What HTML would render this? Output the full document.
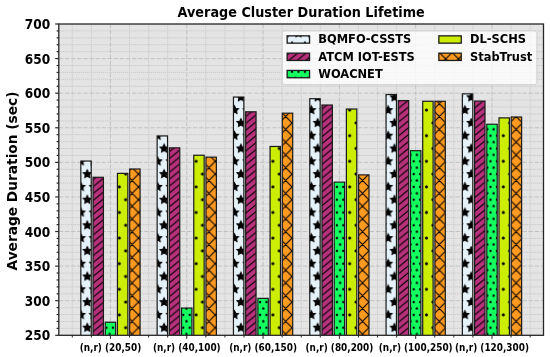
<!DOCTYPE html>
<html><head><meta charset="utf-8"><style>html,body{margin:0;padding:0;background:#fff;}svg{display:block;filter:blur(0.25px);}</style></head>
<body>
<svg width="550" height="357" viewBox="0 0 550 357" font-family="'DejaVu Sans', 'Liberation Sans', sans-serif" font-weight="bold">
<defs><pattern id="p_star" patternUnits="userSpaceOnUse" x="10.5" y="20.5" width="12.8" height="25.6"><rect width="12.8" height="25.6" fill="#e6f2f9"/><path d="M0.00,-4.27 L-1.25,-1.73 L-4.06,-1.32 L-2.03,0.66 L-2.51,3.45 L-0.00,2.13 L2.51,3.45 L2.03,0.66 L4.06,-1.32 L1.25,-1.73 Z M12.80,-4.27 L11.55,-1.73 L8.74,-1.32 L10.77,0.66 L10.29,3.45 L12.80,2.13 L15.31,3.45 L14.83,0.66 L16.86,-1.32 L14.05,-1.73 Z M0.00,21.33 L-1.25,23.87 L-4.06,24.28 L-2.03,26.26 L-2.51,29.05 L-0.00,27.73 L2.51,29.05 L2.03,26.26 L4.06,24.28 L1.25,23.87 Z M12.80,21.33 L11.55,23.87 L8.74,24.28 L10.77,26.26 L10.29,29.05 L12.80,27.73 L15.31,29.05 L14.83,26.26 L16.86,24.28 L14.05,23.87 Z M6.40,8.53 L5.15,11.07 L2.34,11.48 L4.37,13.46 L3.89,16.25 L6.40,14.93 L8.91,16.25 L8.43,13.46 L10.46,11.48 L7.65,11.07 Z " fill="#000" stroke="#000" stroke-width="1.0" stroke-linejoin="miter"/></pattern>
<pattern id="p_diag" patternUnits="userSpaceOnUse" x="0.0" y="1.0" width="8.4" height="6.9"><rect width="8.4" height="6.9" fill="#b8317c"/><path d="M-8.4,6.9 L8.4,-6.9 M0,6.9 L8.4,0 M0,13.8 L16.8,0" stroke="#000" stroke-width="1.1"/></pattern>
<pattern id="p_cross" patternUnits="userSpaceOnUse" x="10.5" y="20.5" width="12.8" height="12.8"><rect width="12.8" height="12.8" fill="#ff9a20"/><path d="M-12.8,12.8 L12.8,-12.8 M0,12.8 L12.8,0 M0,25.6 L25.6,0 M0,0 L12.8,12.8 M-12.8,0 L12.8,25.6 M0,-12.8 L25.6,12.8" stroke="#000" stroke-width="1.1"/></pattern>
<pattern id="p_dots1" patternUnits="userSpaceOnUse" x="10.5" y="20.5" width="12.8" height="25.6"><rect width="12.8" height="25.6" fill="#ccee04"/><g fill="#000" stroke="#000" stroke-width="0.55"><circle cx="0" cy="0" r="1.2800000000000002"/><circle cx="12.8" cy="0" r="1.2800000000000002"/><circle cx="0" cy="25.6" r="1.2800000000000002"/><circle cx="12.8" cy="25.6" r="1.2800000000000002"/><circle cx="6.4" cy="12.8" r="1.2800000000000002"/></g></pattern>
<pattern id="p_dots2" patternUnits="userSpaceOnUse" x="10.5" y="20.5" width="6.4" height="12.8"><rect width="6.4" height="12.8" fill="#14ff60"/><g fill="#000" stroke="#000" stroke-width="1.1"><circle cx="0" cy="0" r="0.6400000000000001"/><circle cx="6.4" cy="0" r="0.6400000000000001"/><circle cx="0" cy="12.8" r="0.6400000000000001"/><circle cx="6.4" cy="12.8" r="0.6400000000000001"/><circle cx="3.2" cy="6.4" r="0.6400000000000001"/></g></pattern><clipPath id="axclip"><rect x="58.8" y="24.0" width="484.7" height="311.3"/></clipPath></defs>
<rect width="550" height="357" fill="#fff"/>
<rect x="58.8" y="24.0" width="484.7" height="311.3" fill="#e4e4e4"/>
<g clip-path="url(#axclip)"><line x1="58.8" y1="328.38" x2="543.5" y2="328.38" stroke="#cdcdcd" stroke-width="1" stroke-dasharray="1.4,0.6"/><line x1="58.8" y1="321.46" x2="543.5" y2="321.46" stroke="#cdcdcd" stroke-width="1" stroke-dasharray="1.4,0.6"/><line x1="58.8" y1="314.55" x2="543.5" y2="314.55" stroke="#cdcdcd" stroke-width="1" stroke-dasharray="1.4,0.6"/><line x1="58.8" y1="307.63" x2="543.5" y2="307.63" stroke="#cdcdcd" stroke-width="1" stroke-dasharray="1.4,0.6"/><line x1="58.8" y1="293.79" x2="543.5" y2="293.79" stroke="#cdcdcd" stroke-width="1" stroke-dasharray="1.4,0.6"/><line x1="58.8" y1="286.88" x2="543.5" y2="286.88" stroke="#cdcdcd" stroke-width="1" stroke-dasharray="1.4,0.6"/><line x1="58.8" y1="279.96" x2="543.5" y2="279.96" stroke="#cdcdcd" stroke-width="1" stroke-dasharray="1.4,0.6"/><line x1="58.8" y1="273.04" x2="543.5" y2="273.04" stroke="#cdcdcd" stroke-width="1" stroke-dasharray="1.4,0.6"/><line x1="58.8" y1="259.20" x2="543.5" y2="259.20" stroke="#cdcdcd" stroke-width="1" stroke-dasharray="1.4,0.6"/><line x1="58.8" y1="252.29" x2="543.5" y2="252.29" stroke="#cdcdcd" stroke-width="1" stroke-dasharray="1.4,0.6"/><line x1="58.8" y1="245.37" x2="543.5" y2="245.37" stroke="#cdcdcd" stroke-width="1" stroke-dasharray="1.4,0.6"/><line x1="58.8" y1="238.45" x2="543.5" y2="238.45" stroke="#cdcdcd" stroke-width="1" stroke-dasharray="1.4,0.6"/><line x1="58.8" y1="224.62" x2="543.5" y2="224.62" stroke="#cdcdcd" stroke-width="1" stroke-dasharray="1.4,0.6"/><line x1="58.8" y1="217.70" x2="543.5" y2="217.70" stroke="#cdcdcd" stroke-width="1" stroke-dasharray="1.4,0.6"/><line x1="58.8" y1="210.78" x2="543.5" y2="210.78" stroke="#cdcdcd" stroke-width="1" stroke-dasharray="1.4,0.6"/><line x1="58.8" y1="203.86" x2="543.5" y2="203.86" stroke="#cdcdcd" stroke-width="1" stroke-dasharray="1.4,0.6"/><line x1="58.8" y1="190.03" x2="543.5" y2="190.03" stroke="#cdcdcd" stroke-width="1" stroke-dasharray="1.4,0.6"/><line x1="58.8" y1="183.11" x2="543.5" y2="183.11" stroke="#cdcdcd" stroke-width="1" stroke-dasharray="1.4,0.6"/><line x1="58.8" y1="176.19" x2="543.5" y2="176.19" stroke="#cdcdcd" stroke-width="1" stroke-dasharray="1.4,0.6"/><line x1="58.8" y1="169.27" x2="543.5" y2="169.27" stroke="#cdcdcd" stroke-width="1" stroke-dasharray="1.4,0.6"/><line x1="58.8" y1="155.44" x2="543.5" y2="155.44" stroke="#cdcdcd" stroke-width="1" stroke-dasharray="1.4,0.6"/><line x1="58.8" y1="148.52" x2="543.5" y2="148.52" stroke="#cdcdcd" stroke-width="1" stroke-dasharray="1.4,0.6"/><line x1="58.8" y1="141.60" x2="543.5" y2="141.60" stroke="#cdcdcd" stroke-width="1" stroke-dasharray="1.4,0.6"/><line x1="58.8" y1="134.68" x2="543.5" y2="134.68" stroke="#cdcdcd" stroke-width="1" stroke-dasharray="1.4,0.6"/><line x1="58.8" y1="120.85" x2="543.5" y2="120.85" stroke="#cdcdcd" stroke-width="1" stroke-dasharray="1.4,0.6"/><line x1="58.8" y1="113.93" x2="543.5" y2="113.93" stroke="#cdcdcd" stroke-width="1" stroke-dasharray="1.4,0.6"/><line x1="58.8" y1="107.01" x2="543.5" y2="107.01" stroke="#cdcdcd" stroke-width="1" stroke-dasharray="1.4,0.6"/><line x1="58.8" y1="100.10" x2="543.5" y2="100.10" stroke="#cdcdcd" stroke-width="1" stroke-dasharray="1.4,0.6"/><line x1="58.8" y1="86.26" x2="543.5" y2="86.26" stroke="#cdcdcd" stroke-width="1" stroke-dasharray="1.4,0.6"/><line x1="58.8" y1="79.34" x2="543.5" y2="79.34" stroke="#cdcdcd" stroke-width="1" stroke-dasharray="1.4,0.6"/><line x1="58.8" y1="72.42" x2="543.5" y2="72.42" stroke="#cdcdcd" stroke-width="1" stroke-dasharray="1.4,0.6"/><line x1="58.8" y1="65.51" x2="543.5" y2="65.51" stroke="#cdcdcd" stroke-width="1" stroke-dasharray="1.4,0.6"/><line x1="58.8" y1="51.67" x2="543.5" y2="51.67" stroke="#cdcdcd" stroke-width="1" stroke-dasharray="1.4,0.6"/><line x1="58.8" y1="44.75" x2="543.5" y2="44.75" stroke="#cdcdcd" stroke-width="1" stroke-dasharray="1.4,0.6"/><line x1="58.8" y1="37.84" x2="543.5" y2="37.84" stroke="#cdcdcd" stroke-width="1" stroke-dasharray="1.4,0.6"/><line x1="58.8" y1="30.92" x2="543.5" y2="30.92" stroke="#cdcdcd" stroke-width="1" stroke-dasharray="1.4,0.6"/><line x1="72.30" y1="24.0" x2="72.30" y2="335.3" stroke="#cdcdcd" stroke-width="1" stroke-dasharray="1.4,0.6"/><line x1="91.37" y1="24.0" x2="91.37" y2="335.3" stroke="#cdcdcd" stroke-width="1" stroke-dasharray="1.4,0.6"/><line x1="129.53" y1="24.0" x2="129.53" y2="335.3" stroke="#cdcdcd" stroke-width="1" stroke-dasharray="1.4,0.6"/><line x1="148.61" y1="24.0" x2="148.61" y2="335.3" stroke="#cdcdcd" stroke-width="1" stroke-dasharray="1.4,0.6"/><line x1="167.68" y1="24.0" x2="167.68" y2="335.3" stroke="#cdcdcd" stroke-width="1" stroke-dasharray="1.4,0.6"/><line x1="205.84" y1="24.0" x2="205.84" y2="335.3" stroke="#cdcdcd" stroke-width="1" stroke-dasharray="1.4,0.6"/><line x1="224.92" y1="24.0" x2="224.92" y2="335.3" stroke="#cdcdcd" stroke-width="1" stroke-dasharray="1.4,0.6"/><line x1="243.99" y1="24.0" x2="243.99" y2="335.3" stroke="#cdcdcd" stroke-width="1" stroke-dasharray="1.4,0.6"/><line x1="282.15" y1="24.0" x2="282.15" y2="335.3" stroke="#cdcdcd" stroke-width="1" stroke-dasharray="1.4,0.6"/><line x1="301.23" y1="24.0" x2="301.23" y2="335.3" stroke="#cdcdcd" stroke-width="1" stroke-dasharray="1.4,0.6"/><line x1="320.30" y1="24.0" x2="320.30" y2="335.3" stroke="#cdcdcd" stroke-width="1" stroke-dasharray="1.4,0.6"/><line x1="358.46" y1="24.0" x2="358.46" y2="335.3" stroke="#cdcdcd" stroke-width="1" stroke-dasharray="1.4,0.6"/><line x1="377.54" y1="24.0" x2="377.54" y2="335.3" stroke="#cdcdcd" stroke-width="1" stroke-dasharray="1.4,0.6"/><line x1="396.61" y1="24.0" x2="396.61" y2="335.3" stroke="#cdcdcd" stroke-width="1" stroke-dasharray="1.4,0.6"/><line x1="434.77" y1="24.0" x2="434.77" y2="335.3" stroke="#cdcdcd" stroke-width="1" stroke-dasharray="1.4,0.6"/><line x1="453.84" y1="24.0" x2="453.84" y2="335.3" stroke="#cdcdcd" stroke-width="1" stroke-dasharray="1.4,0.6"/><line x1="472.92" y1="24.0" x2="472.92" y2="335.3" stroke="#cdcdcd" stroke-width="1" stroke-dasharray="1.4,0.6"/><line x1="511.08" y1="24.0" x2="511.08" y2="335.3" stroke="#cdcdcd" stroke-width="1" stroke-dasharray="1.4,0.6"/><line x1="530.16" y1="24.0" x2="530.16" y2="335.3" stroke="#cdcdcd" stroke-width="1" stroke-dasharray="1.4,0.6"/><line x1="58.8" y1="300.71" x2="543.5" y2="300.71" stroke="#c2c2c2" stroke-width="1" stroke-dasharray="4.5,1.6"/><line x1="58.8" y1="266.12" x2="543.5" y2="266.12" stroke="#c2c2c2" stroke-width="1" stroke-dasharray="4.5,1.6"/><line x1="58.8" y1="231.53" x2="543.5" y2="231.53" stroke="#c2c2c2" stroke-width="1" stroke-dasharray="4.5,1.6"/><line x1="58.8" y1="196.94" x2="543.5" y2="196.94" stroke="#c2c2c2" stroke-width="1" stroke-dasharray="4.5,1.6"/><line x1="58.8" y1="162.36" x2="543.5" y2="162.36" stroke="#c2c2c2" stroke-width="1" stroke-dasharray="4.5,1.6"/><line x1="58.8" y1="127.77" x2="543.5" y2="127.77" stroke="#c2c2c2" stroke-width="1" stroke-dasharray="4.5,1.6"/><line x1="58.8" y1="93.18" x2="543.5" y2="93.18" stroke="#c2c2c2" stroke-width="1" stroke-dasharray="4.5,1.6"/><line x1="58.8" y1="58.59" x2="543.5" y2="58.59" stroke="#c2c2c2" stroke-width="1" stroke-dasharray="4.5,1.6"/><line x1="110.45" y1="24.0" x2="110.45" y2="335.3" stroke="#c2c2c2" stroke-width="1" stroke-dasharray="4.5,1.6"/><line x1="186.76" y1="24.0" x2="186.76" y2="335.3" stroke="#c2c2c2" stroke-width="1" stroke-dasharray="4.5,1.6"/><line x1="263.07" y1="24.0" x2="263.07" y2="335.3" stroke="#c2c2c2" stroke-width="1" stroke-dasharray="4.5,1.6"/><line x1="339.38" y1="24.0" x2="339.38" y2="335.3" stroke="#c2c2c2" stroke-width="1" stroke-dasharray="4.5,1.6"/><line x1="415.69" y1="24.0" x2="415.69" y2="335.3" stroke="#c2c2c2" stroke-width="1" stroke-dasharray="4.5,1.6"/><line x1="492.00" y1="24.0" x2="492.00" y2="335.3" stroke="#c2c2c2" stroke-width="1" stroke-dasharray="4.5,1.6"/></g>
<g clip-path="url(#axclip)"><rect x="80.83" y="161.05" width="10.40" height="176.25" fill="url(#p_star)" stroke="#1a1a1a" stroke-width="1.2"/><rect x="93.04" y="177.31" width="10.40" height="159.99" fill="url(#p_diag)" stroke="#1a1a1a" stroke-width="1.2"/><rect x="105.25" y="322.24" width="10.40" height="15.06" fill="url(#p_dots2)" stroke="#1a1a1a" stroke-width="1.2"/><rect x="117.46" y="173.37" width="10.40" height="163.93" fill="url(#p_dots1)" stroke="#1a1a1a" stroke-width="1.2"/><rect x="129.67" y="169.01" width="10.40" height="168.29" fill="url(#p_cross)" stroke="#1a1a1a" stroke-width="1.2"/><rect x="157.14" y="135.94" width="10.40" height="201.36" fill="url(#p_star)" stroke="#1a1a1a" stroke-width="1.2"/><rect x="169.35" y="147.84" width="10.40" height="189.46" fill="url(#p_diag)" stroke="#1a1a1a" stroke-width="1.2"/><rect x="181.56" y="308.06" width="10.40" height="29.24" fill="url(#p_dots2)" stroke="#1a1a1a" stroke-width="1.2"/><rect x="193.77" y="155.24" width="10.40" height="182.06" fill="url(#p_dots1)" stroke="#1a1a1a" stroke-width="1.2"/><rect x="205.98" y="157.18" width="10.40" height="180.12" fill="url(#p_cross)" stroke="#1a1a1a" stroke-width="1.2"/><rect x="233.45" y="97.06" width="10.40" height="240.24" fill="url(#p_star)" stroke="#1a1a1a" stroke-width="1.2"/><rect x="245.66" y="111.80" width="10.40" height="225.50" fill="url(#p_diag)" stroke="#1a1a1a" stroke-width="1.2"/><rect x="257.87" y="298.37" width="10.40" height="38.93" fill="url(#p_dots2)" stroke="#1a1a1a" stroke-width="1.2"/><rect x="270.08" y="146.46" width="10.40" height="190.84" fill="url(#p_dots1)" stroke="#1a1a1a" stroke-width="1.2"/><rect x="282.29" y="113.18" width="10.40" height="224.12" fill="url(#p_cross)" stroke="#1a1a1a" stroke-width="1.2"/><rect x="309.76" y="98.72" width="10.40" height="238.58" fill="url(#p_star)" stroke="#1a1a1a" stroke-width="1.2"/><rect x="321.97" y="105.02" width="10.40" height="232.28" fill="url(#p_diag)" stroke="#1a1a1a" stroke-width="1.2"/><rect x="334.18" y="182.15" width="10.40" height="155.15" fill="url(#p_dots2)" stroke="#1a1a1a" stroke-width="1.2"/><rect x="346.39" y="109.03" width="10.40" height="228.27" fill="url(#p_dots1)" stroke="#1a1a1a" stroke-width="1.2"/><rect x="358.60" y="174.89" width="10.40" height="162.41" fill="url(#p_cross)" stroke="#1a1a1a" stroke-width="1.2"/><rect x="386.07" y="94.50" width="10.40" height="242.80" fill="url(#p_star)" stroke="#1a1a1a" stroke-width="1.2"/><rect x="398.28" y="100.59" width="10.40" height="236.71" fill="url(#p_diag)" stroke="#1a1a1a" stroke-width="1.2"/><rect x="410.49" y="150.68" width="10.40" height="186.62" fill="url(#p_dots2)" stroke="#1a1a1a" stroke-width="1.2"/><rect x="422.70" y="101.28" width="10.40" height="236.02" fill="url(#p_dots1)" stroke="#1a1a1a" stroke-width="1.2"/><rect x="434.91" y="101.28" width="10.40" height="236.02" fill="url(#p_cross)" stroke="#1a1a1a" stroke-width="1.2"/><rect x="462.38" y="93.88" width="10.40" height="243.42" fill="url(#p_star)" stroke="#1a1a1a" stroke-width="1.2"/><rect x="474.59" y="101.08" width="10.40" height="236.22" fill="url(#p_diag)" stroke="#1a1a1a" stroke-width="1.2"/><rect x="486.80" y="124.25" width="10.40" height="213.05" fill="url(#p_dots2)" stroke="#1a1a1a" stroke-width="1.2"/><rect x="499.01" y="117.89" width="10.40" height="219.41" fill="url(#p_dots1)" stroke="#1a1a1a" stroke-width="1.2"/><rect x="511.22" y="116.99" width="10.40" height="220.31" fill="url(#p_cross)" stroke="#1a1a1a" stroke-width="1.2"/></g>
<rect x="58.8" y="24.0" width="484.7" height="311.3" fill="none" stroke="#262626" stroke-width="1.3"/>
<line x1="55.20" y1="335.30" x2="58.8" y2="335.30" stroke="#262626" stroke-width="1.2"/><line x1="56.60" y1="328.38" x2="58.8" y2="328.38" stroke="#262626" stroke-width="1.2"/><line x1="56.60" y1="321.46" x2="58.8" y2="321.46" stroke="#262626" stroke-width="1.2"/><line x1="56.60" y1="314.55" x2="58.8" y2="314.55" stroke="#262626" stroke-width="1.2"/><line x1="56.60" y1="307.63" x2="58.8" y2="307.63" stroke="#262626" stroke-width="1.2"/><line x1="55.20" y1="300.71" x2="58.8" y2="300.71" stroke="#262626" stroke-width="1.2"/><line x1="56.60" y1="293.79" x2="58.8" y2="293.79" stroke="#262626" stroke-width="1.2"/><line x1="56.60" y1="286.88" x2="58.8" y2="286.88" stroke="#262626" stroke-width="1.2"/><line x1="56.60" y1="279.96" x2="58.8" y2="279.96" stroke="#262626" stroke-width="1.2"/><line x1="56.60" y1="273.04" x2="58.8" y2="273.04" stroke="#262626" stroke-width="1.2"/><line x1="55.20" y1="266.12" x2="58.8" y2="266.12" stroke="#262626" stroke-width="1.2"/><line x1="56.60" y1="259.20" x2="58.8" y2="259.20" stroke="#262626" stroke-width="1.2"/><line x1="56.60" y1="252.29" x2="58.8" y2="252.29" stroke="#262626" stroke-width="1.2"/><line x1="56.60" y1="245.37" x2="58.8" y2="245.37" stroke="#262626" stroke-width="1.2"/><line x1="56.60" y1="238.45" x2="58.8" y2="238.45" stroke="#262626" stroke-width="1.2"/><line x1="55.20" y1="231.53" x2="58.8" y2="231.53" stroke="#262626" stroke-width="1.2"/><line x1="56.60" y1="224.62" x2="58.8" y2="224.62" stroke="#262626" stroke-width="1.2"/><line x1="56.60" y1="217.70" x2="58.8" y2="217.70" stroke="#262626" stroke-width="1.2"/><line x1="56.60" y1="210.78" x2="58.8" y2="210.78" stroke="#262626" stroke-width="1.2"/><line x1="56.60" y1="203.86" x2="58.8" y2="203.86" stroke="#262626" stroke-width="1.2"/><line x1="55.20" y1="196.94" x2="58.8" y2="196.94" stroke="#262626" stroke-width="1.2"/><line x1="56.60" y1="190.03" x2="58.8" y2="190.03" stroke="#262626" stroke-width="1.2"/><line x1="56.60" y1="183.11" x2="58.8" y2="183.11" stroke="#262626" stroke-width="1.2"/><line x1="56.60" y1="176.19" x2="58.8" y2="176.19" stroke="#262626" stroke-width="1.2"/><line x1="56.60" y1="169.27" x2="58.8" y2="169.27" stroke="#262626" stroke-width="1.2"/><line x1="55.20" y1="162.36" x2="58.8" y2="162.36" stroke="#262626" stroke-width="1.2"/><line x1="56.60" y1="155.44" x2="58.8" y2="155.44" stroke="#262626" stroke-width="1.2"/><line x1="56.60" y1="148.52" x2="58.8" y2="148.52" stroke="#262626" stroke-width="1.2"/><line x1="56.60" y1="141.60" x2="58.8" y2="141.60" stroke="#262626" stroke-width="1.2"/><line x1="56.60" y1="134.68" x2="58.8" y2="134.68" stroke="#262626" stroke-width="1.2"/><line x1="55.20" y1="127.77" x2="58.8" y2="127.77" stroke="#262626" stroke-width="1.2"/><line x1="56.60" y1="120.85" x2="58.8" y2="120.85" stroke="#262626" stroke-width="1.2"/><line x1="56.60" y1="113.93" x2="58.8" y2="113.93" stroke="#262626" stroke-width="1.2"/><line x1="56.60" y1="107.01" x2="58.8" y2="107.01" stroke="#262626" stroke-width="1.2"/><line x1="56.60" y1="100.10" x2="58.8" y2="100.10" stroke="#262626" stroke-width="1.2"/><line x1="55.20" y1="93.18" x2="58.8" y2="93.18" stroke="#262626" stroke-width="1.2"/><line x1="56.60" y1="86.26" x2="58.8" y2="86.26" stroke="#262626" stroke-width="1.2"/><line x1="56.60" y1="79.34" x2="58.8" y2="79.34" stroke="#262626" stroke-width="1.2"/><line x1="56.60" y1="72.42" x2="58.8" y2="72.42" stroke="#262626" stroke-width="1.2"/><line x1="56.60" y1="65.51" x2="58.8" y2="65.51" stroke="#262626" stroke-width="1.2"/><line x1="55.20" y1="58.59" x2="58.8" y2="58.59" stroke="#262626" stroke-width="1.2"/><line x1="56.60" y1="51.67" x2="58.8" y2="51.67" stroke="#262626" stroke-width="1.2"/><line x1="56.60" y1="44.75" x2="58.8" y2="44.75" stroke="#262626" stroke-width="1.2"/><line x1="56.60" y1="37.84" x2="58.8" y2="37.84" stroke="#262626" stroke-width="1.2"/><line x1="56.60" y1="30.92" x2="58.8" y2="30.92" stroke="#262626" stroke-width="1.2"/><line x1="55.20" y1="24.00" x2="58.8" y2="24.00" stroke="#262626" stroke-width="1.2"/><line x1="72.30" y1="335.3" x2="72.30" y2="337.50" stroke="#262626" stroke-width="1.0"/><line x1="91.37" y1="335.3" x2="91.37" y2="337.50" stroke="#262626" stroke-width="1.0"/><line x1="110.45" y1="335.3" x2="110.45" y2="338.90" stroke="#262626" stroke-width="1.0"/><line x1="129.53" y1="335.3" x2="129.53" y2="337.50" stroke="#262626" stroke-width="1.0"/><line x1="148.61" y1="335.3" x2="148.61" y2="337.50" stroke="#262626" stroke-width="1.0"/><line x1="167.68" y1="335.3" x2="167.68" y2="337.50" stroke="#262626" stroke-width="1.0"/><line x1="186.76" y1="335.3" x2="186.76" y2="338.90" stroke="#262626" stroke-width="1.0"/><line x1="205.84" y1="335.3" x2="205.84" y2="337.50" stroke="#262626" stroke-width="1.0"/><line x1="224.92" y1="335.3" x2="224.92" y2="337.50" stroke="#262626" stroke-width="1.0"/><line x1="243.99" y1="335.3" x2="243.99" y2="337.50" stroke="#262626" stroke-width="1.0"/><line x1="263.07" y1="335.3" x2="263.07" y2="338.90" stroke="#262626" stroke-width="1.0"/><line x1="282.15" y1="335.3" x2="282.15" y2="337.50" stroke="#262626" stroke-width="1.0"/><line x1="301.23" y1="335.3" x2="301.23" y2="337.50" stroke="#262626" stroke-width="1.0"/><line x1="320.30" y1="335.3" x2="320.30" y2="337.50" stroke="#262626" stroke-width="1.0"/><line x1="339.38" y1="335.3" x2="339.38" y2="338.90" stroke="#262626" stroke-width="1.0"/><line x1="358.46" y1="335.3" x2="358.46" y2="337.50" stroke="#262626" stroke-width="1.0"/><line x1="377.54" y1="335.3" x2="377.54" y2="337.50" stroke="#262626" stroke-width="1.0"/><line x1="396.61" y1="335.3" x2="396.61" y2="337.50" stroke="#262626" stroke-width="1.0"/><line x1="415.69" y1="335.3" x2="415.69" y2="338.90" stroke="#262626" stroke-width="1.0"/><line x1="434.77" y1="335.3" x2="434.77" y2="337.50" stroke="#262626" stroke-width="1.0"/><line x1="453.84" y1="335.3" x2="453.84" y2="337.50" stroke="#262626" stroke-width="1.0"/><line x1="472.92" y1="335.3" x2="472.92" y2="337.50" stroke="#262626" stroke-width="1.0"/><line x1="492.00" y1="335.3" x2="492.00" y2="338.90" stroke="#262626" stroke-width="1.0"/><line x1="511.08" y1="335.3" x2="511.08" y2="337.50" stroke="#262626" stroke-width="1.0"/><line x1="530.16" y1="335.3" x2="530.16" y2="337.50" stroke="#262626" stroke-width="1.0"/>
<text transform="translate(50.2,340.40) scale(0.945,1.1)" font-size="12.9" text-anchor="end" fill="#000">250</text>
<text transform="translate(50.2,305.81) scale(0.945,1.1)" font-size="12.9" text-anchor="end" fill="#000">300</text>
<text transform="translate(50.2,271.22) scale(0.945,1.1)" font-size="12.9" text-anchor="end" fill="#000">350</text>
<text transform="translate(50.2,236.63) scale(0.945,1.1)" font-size="12.9" text-anchor="end" fill="#000">400</text>
<text transform="translate(50.2,202.04) scale(0.945,1.1)" font-size="12.9" text-anchor="end" fill="#000">450</text>
<text transform="translate(50.2,167.46) scale(0.945,1.1)" font-size="12.9" text-anchor="end" fill="#000">500</text>
<text transform="translate(50.2,132.87) scale(0.945,1.1)" font-size="12.9" text-anchor="end" fill="#000">550</text>
<text transform="translate(50.2,98.28) scale(0.945,1.1)" font-size="12.9" text-anchor="end" fill="#000">600</text>
<text transform="translate(50.2,63.69) scale(0.945,1.1)" font-size="12.9" text-anchor="end" fill="#000">650</text>
<text transform="translate(50.2,29.10) scale(0.945,1.1)" font-size="12.9" text-anchor="end" fill="#000">700</text>
<text transform="translate(110.45,351.1) scale(1,1.1)" font-size="8.9" text-anchor="middle" fill="#000">(n,r) (20,50)</text>
<text transform="translate(186.76,351.1) scale(1,1.1)" font-size="8.9" text-anchor="middle" fill="#000">(n,r) (40,100)</text>
<text transform="translate(263.07,351.1) scale(1,1.1)" font-size="8.9" text-anchor="middle" fill="#000">(n,r) (60,150)</text>
<text transform="translate(339.38,351.1) scale(1,1.1)" font-size="8.9" text-anchor="middle" fill="#000">(n,r) (80,200)</text>
<text transform="translate(415.69,351.1) scale(1,1.1)" font-size="8.9" text-anchor="middle" fill="#000">(n,r) (100,250)</text>
<text transform="translate(492.00,351.1) scale(1,1.1)" font-size="8.9" text-anchor="middle" fill="#000">(n,r) (120,300)</text>
<text transform="translate(301.15,17.0) scale(0.995,1.05)" font-size="12.9" text-anchor="middle" fill="#000">Average Cluster Duration Lifetime</text>
<text transform="translate(17.4,181.0) rotate(-90) scale(1.0,1.03)" x="0" y="0" font-size="13.75" text-anchor="middle" fill="#000">Average Duration (sec)</text>
<rect x="282.3" y="31.0" width="254.49999999999994" height="53.599999999999994" rx="2.5" fill="#fff" fill-opacity="0.78" stroke="#d0d0d0" stroke-width="0.9"/>
<rect x="287.15" y="35.85" width="22.40" height="7.30" fill="url(#p_star)" stroke="#1a1a1a" stroke-width="1.3"/>
<text transform="translate(318.3,43.25) scale(1,1.1)" font-size="11.45" fill="#000">BQMFO-CSSTS</text>
<rect x="287.15" y="53.15" width="22.40" height="7.30" fill="url(#p_diag)" stroke="#1a1a1a" stroke-width="1.3"/>
<text transform="translate(318.3,60.55) scale(1,1.1)" font-size="11.45" fill="#000">ATCM IOT-ESTS</text>
<rect x="287.15" y="70.45" width="22.40" height="7.30" fill="url(#p_dots2)" stroke="#1a1a1a" stroke-width="1.3"/>
<text transform="translate(318.3,77.85) scale(1,1.1)" font-size="11.45" fill="#000">WOACNET</text>
<rect x="438.85" y="35.85" width="22.40" height="7.30" fill="url(#p_dots1)" stroke="#1a1a1a" stroke-width="1.3"/>
<text transform="translate(470.0,43.25) scale(1,1.1)" font-size="11.45" fill="#000">DL-SCHS</text>
<rect x="438.85" y="53.15" width="22.40" height="7.30" fill="url(#p_cross)" stroke="#1a1a1a" stroke-width="1.3"/>
<text transform="translate(470.0,60.55) scale(1,1.1)" font-size="11.45" fill="#000">StabTrust</text>
</svg>
</body></html>
